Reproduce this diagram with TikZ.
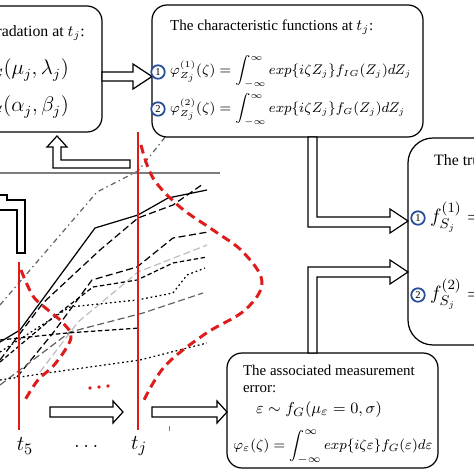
\documentclass[tikz,border=0pt]{standalone}
\usepackage{fontspec}
\setmainfont{Liberation Serif}
\usepackage{amsmath}
\definecolor{pathred}{RGB}{222,28,28}
\definecolor{circleblue}{RGB}{38,78,155}
\definecolor{axisgray}{RGB}{125,125,125}
\definecolor{lightpath}{RGB}{190,190,190}
\definecolor{midpath}{RGB}{100,100,100}

\begin{document}
\begin{tikzpicture}[x=0.02cm, y=-0.02cm,
    box/.style={draw, line width=0.7pt, fill=white, rounded corners=0.3cm},
    blockarrow/.style={draw, line width=0.7pt, fill=white},
    numc/.style={draw=circleblue, fill=white, circle, line width=1pt, inner sep=0pt, minimum size=0.27cm, font=\fontsize{6}{6}\selectfont},
    traj/.style={line width=0.7pt},
    longdashed/.style={traj, dash pattern=on 4pt off 2pt},
    shortdashed/.style={traj, dash pattern=on 2.5pt off 1.5pt},
    dotdashed/.style={traj, dash pattern=on 3pt off 2pt on 0.8pt off 2pt},
    dotline/.style={traj, dash pattern=on 1pt off 1.6pt},
    bell/.style={pathred, line width=1.7pt, dash pattern=on 5pt off 3pt},
    timeline/.style={pathred, line width=1.1pt}]
    \useasboundingbox (0,0) rectangle (474,474);
    \clip (0,0) rectangle (474,474);

    % degradation paths
    \draw[dotdashed, midpath] (0,305) -- (97,192) -- (138,171) -- (166,136);
    \draw[traj] (-5,345) -- (20,330) -- (95,228) -- (138,215) -- (168,198) -- (207,190);
    \draw[longdashed] (0,360) -- (43,303) -- (100,250) -- (138,218) -- (173,205) -- (203,184);
    \draw[longdashed] (17,377) -- (53,333) -- (92,280) -- (137,267) -- (173,238) -- (208,232);
    \draw[shortdashed] (0,362) -- (50,320) -- (93,287) -- (137,280) -- (173,263) -- (207,257);
    \draw[longdashed, lightpath] (40,372) -- (78,322) -- (113,293) -- (138,272) -- (207,245);
    \draw[dotline] (0,352) -- (70,307) -- (137,300) -- (173,293) -- (187,275) -- (205,268);
    \draw[longdashed, midpath] (0,385) -- (70,332) -- (143,313) -- (203,293);
    \draw[dotline] (0,380) -- (47,373) -- (140,360) -- (207,343);
    \draw[shortdashed] (0,340) -- (67,333) -- (140,328);
    \draw[axisgray, line width=0.7pt] (0,173) -- (220,173);

    % inspection times and distributions
    \draw[timeline] (19,262) -- (19,430);
    \draw[timeline] (138,132) -- (138,430);
    \draw[bell] plot[smooth, tension=0.6] coordinates {(21,270) (33,296) (48,310) (63,323) (71,338) (55,364) (38,380) (25,400)};
    \draw[bell] plot[smooth, tension=0.6] coordinates {(141,145) (153,178) (180,207) (213,230) (243,252) (262,282) (245,310) (205,334) (165,366) (143,402)};
    \foreach \dx in {90,99,108}
        \fill[pathred] (\dx,388-\dx/9+10) circle (1.8);
    \draw[axisgray, line width=0.5pt] (169,426) -- (169,431);

    % boxes
    \draw[box] (-80,6) rectangle (102,132);
    \draw[box] (152,5) rectangle (423,137);
    \draw[box, rounded corners=0.5cm] (408,138) rectangle (560,345);
    \draw[box] (227,353) rectangle (438,468);

    % block arrows
    \draw[blockarrow] (102,72) -- (133,72) -- (133,64) -- (152,76.5) -- (133,89) -- (133,81) -- (102,81) -- cycle;
    \draw[blockarrow] (130,168) -- (53,168) -- (53,147) -- (47,147) -- (57,136) -- (67,147) -- (61,147) -- (61,160) -- (130,160) -- cycle;
    \draw[blockarrow] (17,253) -- (25,253) -- (25,200) -- (7,200) -- (7,195) -- (-20,195) -- (-20,210) -- (17,210) -- cycle;
    \draw[blockarrow] (308,137) -- (308,227) -- (390,227) -- (390,233) -- (408,221) -- (390,209) -- (390,217) -- (317,217) -- (317,137) -- cycle;
    \draw[blockarrow] (308,353) -- (308,267) -- (390,267) -- (390,260) -- (408,272) -- (390,284) -- (390,277) -- (317,277) -- (317,353) -- cycle;
    \draw[blockarrow] (50,407) -- (113,407) -- (113,401) -- (123,412) -- (113,423) -- (113,417) -- (50,417) -- cycle;
    \draw[blockarrow] (152,407) -- (217,407) -- (217,401) -- (227,412) -- (217,423) -- (217,417) -- (152,417) -- cycle;

    % degradation box
    \node[anchor=east, font=\fontsize{9}{11}\selectfont] (degtitle) at (91,33) {Degradation at $t_j$:};
    \node[anchor=east, font=\fontsize{11.5}{13}\selectfont] (degone) at (75,70) {$Z_j \sim f_{IG}(\mu_j,\lambda_j)$};
    \node[anchor=east, font=\fontsize{11.5}{13}\selectfont] (degtwo) at (75,107) {$Z_j \sim f_{G}(\alpha_j,\beta_j)$};

    % characteristic functions
    \node[anchor=west, font=\fontsize{8.6}{10}\selectfont] (chartitle) at (164,27) {The characteristic functions at $t_j$:};
    \node[numc] (charnumone) at (158,72) {1};
    \node[anchor=west, inner sep=1pt, font=\fontsize{7.7}{9}\selectfont] (charone) at (168,72) {$\varphi^{(1)}_{Z_j}(\zeta)=\displaystyle\int_{-\infty}^{\infty} exp\{i\zeta Z_j\} f_{IG}(Z_j)dZ_j$};
    \node[numc] (charnumtwo) at (158,109) {2};
    \node[anchor=west, inner sep=1pt, font=\fontsize{7.7}{9}\selectfont] (chartwo) at (168,110) {$\varphi^{(2)}_{Z_j}(\zeta)=\displaystyle\int_{-\infty}^{\infty} exp\{i\zeta Z_j\} f_{G}(Z_j)dZ_j$};

    % true distributions
    \node[anchor=west, font=\fontsize{9}{11}\selectfont] (truetitle) at (428,160) {The true};
    \node[numc] (truenumone) at (418,218) {1};
    \node[anchor=west, font=\fontsize{11}{13}\selectfont] (trueone) at (424,217) {$f^{(1)}_{S_j}=$};
    \node[numc] (truenumtwo) at (418,295) {2};
    \node[anchor=west, font=\fontsize{11}{13}\selectfont] (truetwo) at (424,294) {$f^{(2)}_{S_j}=$};

    % measurement error
    \node[anchor=north west, align=left, inner sep=1pt, font=\fontsize{8.5}{9.5}\selectfont] (errtitle) at (241,363) {The associated measurement\\error:};
    \node[inner sep=1pt, font=\fontsize{9.5}{11}\selectfont] (errdist) at (319,410) {$\varepsilon\sim f_G(\mu_\varepsilon=0,\sigma)$};
    \node[inner sep=0.5pt, font=\fontsize{8}{10}\selectfont] (errchar) at (333,447) {$\varphi_\varepsilon(\zeta)=\displaystyle\int_{-\infty}^{\infty} exp\{i\zeta\varepsilon\} f_G(\varepsilon)d\varepsilon$};

    % time labels
    \node[font=\fontsize{13}{15}\selectfont] (tfive) at (25,446) {$t_5$};
    \node[font=\fontsize{13}{15}\selectfont] (tdots) at (88,446) {$\dots$};
    \node[font=\fontsize{13}{15}\selectfont] (tjay) at (139,446) {$t_j$};
\end{tikzpicture}
\end{document}
